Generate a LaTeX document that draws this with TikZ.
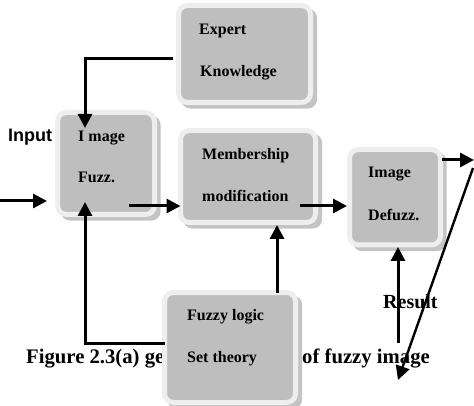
\documentclass[tikz,border=0pt]{standalone}
\usepackage{fontspec}
\setmainfont{Liberation Serif}
\newfontfamily\labelsans{Liberation Sans}
\usepackage{tikz}
\usetikzlibrary{arrows.meta,shadows,calc}
\usepackage{xcolor}

\definecolor{boxfill}{RGB}{190,190,190}
\definecolor{boxrim}{RGB}{238,238,238}
\definecolor{boxshade}{RGB}{196,196,196}

\begin{document}
\begin{tikzpicture}[x=1pt,y=1pt,yscale=-1,xscale=1,
  blk/.style={rectangle,rounded corners=9pt,fill=boxfill,draw=boxrim,line width=5pt,
    inner sep=0pt,outer sep=0pt,
    drop shadow={shadow xshift=4.5pt,shadow yshift=-4.5pt,shadow scale=1.03,fill=boxshade,opacity=1}},
  lbl/.style={anchor=base west,inner sep=0pt,font=\bfseries\fontsize{16}{19}\selectfont},
  captxt/.style={anchor=base west,inner sep=0pt,font=\bfseries\fontsize{20.7}{24}\selectfont},
  arr/.style={line width=3pt,-{Triangle[length=14pt,width=14pt]}}]
\useasboundingbox (0,0) rectangle (474,406);

% Caption text (partly hidden behind the lower box)
\draw (26,363) node (capA) [captxt] {Figure 2.3(a) ge};
\draw (302,363) node (capB) [captxt] {of fuzzy image};

%Shape: Rounded Rectangle [expert]
\node (expert) [blk,minimum width=132pt,minimum height=97pt] at (244.5,54) {};
%Shape: Rounded Rectangle [fuzz]
\node (fuzz) [blk,minimum width=97pt,minimum height=102pt] at (106,163.5) {};
%Shape: Rounded Rectangle [member]
\node (member) [blk,minimum width=135pt,minimum height=92pt] at (248,176.5) {};
%Shape: Rounded Rectangle [defuzz]
\node (defuzz) [blk,minimum width=91pt,minimum height=95.5pt] at (395,197.25) {};
%Shape: Rounded Rectangle [logic]
\node (logic) [blk,minimum width=131pt,minimum height=110pt] at (230,347.5) {};

% Text Node
\draw (8,142) node (txtInput) [anchor=base west][inner sep=0pt][font=\labelsans\bfseries\fontsize{18}{21}\selectfont] {Input};
% Text Node
\draw (199,35) node (txtExpert) [lbl] {Expert};
% Text Node
\draw (200,77) node (txtKnow) [lbl] {Knowledge};
% Text Node
\draw (78,142) node (txtImage) [lbl] {I mage};
% Text Node
\draw (78,183) node (txtFuzz) [lbl] {Fuzz.};
% Text Node
\draw (202,160) node (txtMember) [lbl] {Membership};
% Text Node
\draw (202,202) node (txtModif) [lbl] {modification};
% Text Node
\draw (368,178) node (txtImageB) [lbl] {Image};
% Text Node
\draw (368,221) node (txtDefuzz) [lbl] {Defuzz.};
% Text Node
\draw (187,320) node (txtLogic) [lbl] {Fuzzy logic};
% Text Node
\draw (187,362) node (txtSet) [lbl] {Set theory};
% Text Node
\draw (383,308) node (txtResult) [anchor=base west][inner sep=0pt][font=\bfseries\fontsize{20}{24}\selectfont] {Result};

% free ends
\coordinate (inStart) at (0,201);
\coordinate (outEnd) at (474,160);
\coordinate (diagTop) at (473,168);
\coordinate (diagEnd) at (398,380);

%Arrows
\draw [arr,shorten >=10.5pt] (inStart) -- (inStart -| fuzz.west);
\draw [arr] ($(expert.west)+(-5.5,5)$) -| ($(fuzz.north)+(-21,15.5)$);
\draw [arr] ($(fuzz.south east)+(-25.5,-8.5)$) coordinate (fzOut) -- (fzOut -| member.west);
\draw [arr,shorten >=2.5pt] ($(member.south east)+(-15.5,-16.5)$) coordinate (mbOut) -- (mbOut -| defuzz.west);
\draw [arr] ($(logic.north)+(47,0)$) coordinate (lgOut) -- ($(lgOut |- member.south)+(0,2.5)$);
\draw [arr] ($(logic.west)+(0,-4.5)$) -| ($(fuzz.south)+(-21,-12.5)$);
\draw [arr] ($(defuzz.south)+(3,98)$) coordinate (resStart) -- ($(resStart |- defuzz.south)+(0,2)$);
\draw [arr] ($(defuzz.north east)+(1.5,10.5)$) coordinate (dfOut) -- (dfOut -| outEnd);
\draw [arr,line width=2.4pt] (diagTop) -- (diagEnd);

\end{tikzpicture}
\end{document}
